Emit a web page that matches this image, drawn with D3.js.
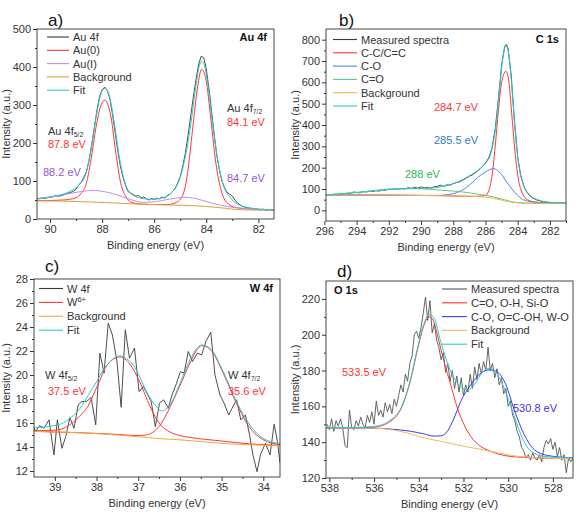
<!DOCTYPE html>
<html>
<head>
<meta charset="utf-8">
<script src="https://cdn.jsdelivr.net/npm/d3@7"></script>
<style>
  body { margin: 0; background: #fff; }
  svg { font-family: "Liberation Sans", Arial, sans-serif; }
  .tick text { font-size: 11px; fill: #333; }
  .tick line { stroke: #333; }
</style>
</head>
<body>
<svg id="fig" width="583" height="514"></svg>
<script>
// ---- a) Au 4f ----
const auMeasured = [[90.5,53],[90.4,54],[90.3,55],[90.2,54],[90.1,56],[90.0,57],[89.9,58],[89.8,62],[89.7,60],[89.6,61],[89.5,63],[89.4,65],[89.3,68],[89.2,70],[89.1,73],[89.0,78],[88.9,90],[88.8,96],[88.7,110],[88.6,125],[88.5,155],[88.4,195],[88.3,240],[88.2,285],[88.1,322],[88.0,340],[87.9,347],[87.8,338],[87.7,315],[87.6,275],[87.5,228],[87.4,180],[87.3,140],[87.2,110],[87.1,88],[87.0,72],[86.9,68],[86.8,64],[86.7,60],[86.6,62],[86.5,56],[86.4,58],[86.3,53],[86.2,50],[86.1,54],[86.0,51],[85.9,55],[85.8,53],[85.7,58],[85.6,55],[85.5,62],[85.4,65],[85.3,72],[85.2,80],[85.1,95],[85.0,112],[84.9,140],[84.8,175],[84.7,220],[84.6,270],[84.5,320],[84.4,365],[84.3,405],[84.2,428],[84.1,425],[84.0,395],[83.9,345],[83.8,285],[83.7,225],[83.6,170],[83.5,130],[83.4,100],[83.3,82],[83.2,70],[83.1,65],[83.0,60],[82.9,50],[82.8,42],[82.7,37],[82.6,33],[82.5,31],[82.4,29],[82.3,28],[82.2,27],[82.1,26],[82.0,25],[81.9,24],[81.8,26],[81.7,22],[81.6,25],[81.5,23],[81.4,24]];
const auZero = [[90.5,48],[89.5,50],[89.0,56],[88.8,68],[88.6,95],[88.43,155],[88.23,243],[88.04,300],[87.89,313],[87.75,295],[87.66,269],[87.47,172],[87.28,93],[87.08,58],[86.83,43],[86.45,39],[86.0,38],[85.5,38],[85.2,42],[84.92,60],[84.72,120],[84.53,234],[84.33,348],[84.18,394],[84.01,366],[83.82,260],[83.63,146],[83.43,76],[83.24,45],[82.86,30],[82.2,26],[81.4,24]];
const auOne = [[90.5,52],[90.0,58],[89.5,64],[89.0,70],[88.6,74],[88.3,75],[88.0,73],[87.6,67],[87.2,58],[86.8,49],[86.4,44],[86.0,45],[85.6,50],[85.2,55],[84.8,57],[84.5,55],[84.1,48],[83.7,40],[83.3,34],[82.9,30],[82.4,27],[81.9,25],[81.4,24]];
const auBackground = [[90.5,48],[89.5,47],[88.5,45],[87.5,42],[86.5,39],[85.5,37],[84.5,35],[84.0,33],[83.5,30],[83.0,26],[82.5,24],[81.4,23]];
const auFit = [[90.5,54],[89.9,59],[89.26,72],[88.88,90],[88.62,120],[88.43,181],[88.23,269],[88.04,330],[87.89,344],[87.73,326],[87.53,252],[87.34,163],[87.15,102],[86.9,67],[86.45,54],[86.07,52],[85.56,58],[85.3,72],[85.04,102],[84.78,172],[84.59,252],[84.4,349],[84.27,402],[84.18,415],[84.08,406],[83.95,358],[83.76,252],[83.56,155],[83.37,94],[83.11,59],[82.73,37],[82.2,28],[81.4,24]];

// ---- b) C 1s ----
const cMeasured = [[296.0,70],[295.8,74],[295.6,72],[295.4,76],[295.2,74],[295.0,78],[294.8,76],[294.6,80],[294.4,78],[294.2,86],[294.0,84],[293.8,82],[293.6,88],[293.4,86],[293.2,90],[293.0,88],[292.8,92],[292.6,90],[292.4,96],[292.2,94],[292.0,100],[291.8,97],[291.6,101],[291.4,99],[291.2,103],[291.0,100],[290.8,106],[290.6,103],[290.4,108],[290.2,104],[290.0,110],[289.8,105],[289.6,108],[289.4,104],[289.2,110],[289.0,112],[288.8,118],[288.6,112],[288.4,120],[288.2,118],[288.0,125],[287.8,130],[287.6,134],[287.4,142],[287.2,150],[287.0,160],[286.8,166],[286.6,178],[286.4,190],[286.2,205],[286.0,222],[285.8,245],[285.6,290],[285.4,380],[285.2,520],[285.0,680],[284.8,770],[284.7,778],[284.6,760],[284.4,630],[284.2,420],[284.0,250],[283.8,160],[283.6,110],[283.4,82],[283.2,65],[283.0,55],[282.8,48],[282.6,44],[282.4,40],[282.2,38],[282.0,37],[281.8,36],[281.6,35],[281.4,34],[281.2,34],[281.0,33]];
const cCC = [[295.9,72],[292,71],[289,69],[288,67],[287,66],[286.5,66],[286.0,70],[285.8,90],[285.6,160],[285.4,295],[285.2,465],[285.0,598],[284.73,652],[284.55,605],[284.35,435],[284.15,262],[283.95,142],[283.75,86],[283.5,56],[283.0,40],[282.0,34],[281.0,33]];
const cCO = [[295.9,72],[292,71],[290,70],[289,70],[288.5,72],[288,78],[287.5,92],[287,118],[286.5,153],[286,180],[285.7,192],[285.45,195],[285.2,184],[285,168],[284.7,134],[284.3,95],[284,70],[283.7,52],[283.3,42],[282.5,35],[281,33]];
const cCeqO = [[295.9,72],[294,84],[292,98],[290.5,102],[289.5,99],[288.7,94],[288,90],[287.5,87],[287,82],[286.5,76],[286,70],[285.5,63],[285,53],[284.5,43],[284,36],[283,33],[281,33]];
const cBackground = [[295.9,72],[292,71],[289,69],[287,66],[286,62],[285.5,56],[285,48],[284.5,40],[284,35],[283.5,33],[281,33]];
const cFit = [[295.9,72],[293.9,84],[291.8,100],[289.75,103],[288.7,111],[287.7,134],[287.1,158],[286.45,189],[286.0,220],[285.7,259],[285.5,322],[285.3,431],[285.1,587],[284.9,728],[284.73,772],[284.58,744],[284.37,587],[284.17,384],[283.96,228],[283.65,119],[283.24,72],[282.7,48],[281.9,37],[281.0,33]];

// ---- c) W 4f ----
const wMeasured = [[39.52,15.78],[39.46,15.28],[39.37,15.78],[39.26,15.56],[39.14,16.26],[39.02,13.34],[38.94,16.26],[38.83,13.89],[38.74,14.86],[38.64,16.45],[38.54,15.56],[38.44,17.51],[38.35,17.79],[38.24,17.79],[38.13,18.12],[38.02,15.84],[37.92,21.82],[37.82,20.15],[37.72,24.32],[37.62,23.35],[37.51,21.12],[37.41,17.31],[37.31,23.77],[37.21,21.4],[37.09,22.24],[36.98,18.62],[36.88,19.04],[36.81,18.62],[36.69,17.79],[36.59,15.7],[36.49,17.65],[36.39,17.93],[36.28,17.23],[36.19,18.34],[36.08,19.32],[35.99,20.29],[35.9,20.15],[35.8,21.96],[35.7,21.12],[35.58,21.82],[35.48,21.68],[35.37,22.85],[35.26,23.57],[35.16,20.01],[35.04,18.34],[34.94,17.65],[34.83,16.67],[34.75,17.23],[34.64,17.93],[34.54,16.26],[34.43,16.67],[34.33,15.0],[34.25,13.34],[34.15,11.94],[34.07,13.34],[33.95,14.31],[33.84,13.34],[33.74,15.9],[33.66,14.45],[33.6,12.64]];
const wFiveHalf = [[39.5,15.35],[39.0,15.4],[38.8,15.55],[38.6,15.95],[38.4,16.6],[38.24,17.2],[37.98,19.1],[37.74,20.85],[37.44,21.5],[37.2,20.9],[36.96,19.4],[36.72,17.4],[36.48,15.9],[36.24,15.25],[36.0,14.95],[35.76,14.8],[35.0,14.5],[34.3,14.25],[33.6,14.15]];
const wSevenHalf = [[39.5,15.3],[38.5,15.2],[37.5,15.05],[37.0,14.95],[36.8,15.0],[36.6,15.35],[36.44,16.0],[36.24,17.3],[36.0,19.1],[35.76,21.0],[35.6,22.05],[35.48,22.45],[35.36,22.35],[35.24,22.0],[34.96,20.15],[34.64,17.6],[34.32,15.6],[34.0,14.6],[33.6,14.2]];
const wBackground = [[39.5,15.3],[38.5,15.2],[37.5,15.0],[37.0,14.85],[36.5,14.7],[36.0,14.6],[35.5,14.45],[35.0,14.3],[34.5,14.2],[34.0,14.15],[33.6,14.1]];
const wFit = [[39.5,15.6],[39.0,15.8],[38.8,16.0],[38.6,16.5],[38.4,17.2],[38.2,18.3],[38.0,19.44],[37.84,20.4],[37.68,21.1],[37.44,21.6],[37.28,21.35],[37.12,20.83],[36.96,19.8],[36.8,18.6],[36.56,17.35],[36.44,17.0],[36.34,17.15],[36.24,17.49],[36.0,19.3],[35.76,21.25],[35.6,22.2],[35.48,22.5],[35.36,22.4],[35.24,22.09],[34.96,20.27],[34.64,17.77],[34.32,15.82],[34.0,14.71],[33.6,14.29]];

// ---- d) O 1s ----
const oMeasured = [[538.1,150],[538.0,147],[537.9,153],[537.8,146],[537.7,152],[537.6,149],[537.5,153],[537.4,148],[537.3,138],[537.2,137],[537.1,158],[537.0,148],[536.9,147],[536.8,152],[536.7,149],[536.6,154],[536.5,150],[536.4,148],[536.3,155],[536.2,151],[536.1,157],[536.0,150],[535.9,163],[535.8,155],[535.7,158],[535.6,154],[535.5,162],[535.4,157],[535.3,161],[535.2,156],[535.1,164],[535.0,160],[534.9,166],[534.8,172],[534.7,168],[534.6,178],[534.5,174],[534.4,184],[534.3,188],[534.2,200],[534.1,202],[534.0,198],[533.9,204],[533.8,212],[533.7,221],[533.6,208],[533.5,219],[533.4,201],[533.3,206],[533.2,197],[533.1,193],[533.0,186],[532.9,190],[532.8,179],[532.7,184],[532.6,174],[532.5,180],[532.4,170],[532.3,177],[532.2,168],[532.1,176],[532.0,166],[531.9,172],[531.8,168],[531.7,178],[531.6,170],[531.5,182],[531.4,175],[531.3,184],[531.2,178],[531.1,185],[531.0,180],[530.9,193],[530.8,180],[530.7,184],[530.6,176],[530.5,181],[530.4,172],[530.3,176],[530.2,167],[530.1,170],[530.0,160],[529.9,163],[529.8,155],[529.7,152],[529.6,146],[529.5,143],[529.4,137],[529.3,135],[529.2,131],[529.1,133],[529.0,130],[528.9,134],[528.8,131],[528.7,130],[528.6,133],[528.5,129],[528.4,137],[528.3,141],[528.2,139],[528.1,142],[528.0,136],[527.9,140],[527.8,132],[527.7,137],[527.6,130],[527.5,133],[527.4,123],[527.3,131],[527.2,129],[527.1,131]];
const oCeqO = [[538.15,148],[537,148],[536,148.4],[535.25,151.8],[534.8,158.5],[534.36,175],[534.06,191.5],[533.76,205.5],[533.54,210.1],[533.35,208],[533.17,200],[532.87,185],[532.57,172],[532.27,159],[531.97,149.7],[531.67,143.2],[531.22,137.6],[530.78,134.9],[530.18,132.6],[529.28,131.5],[527.1,130.8]];
const oCO = [[538.15,148],[536,147.8],[535.25,147.3],[534.36,146.1],[533.76,144.6],[533.31,143.4],[533.02,143.5],[532.72,146.1],[532.42,153.5],[532.12,162.8],[531.67,172],[531.22,178.5],[530.85,180.4],[530.48,179.1],[530.1,172],[529.73,158.1],[529.28,144.2],[528.83,135.8],[528.24,132.6],[527.1,131.2]];
const oBackground = [[538.15,148],[536,147.8],[534.8,146],[533.76,142.4],[533.02,140.5],[531.97,137.7],[530.78,134.9],[529.58,132.1],[528.53,131.2],[527.1,130.8]];
const oFit = [[538.15,148],[537,148.2],[536,148.8],[535.25,152.5],[534.8,159],[534.36,175.7],[534.06,192.4],[533.76,206.4],[533.54,211.4],[533.31,209.2],[533.02,196.2],[532.57,179.5],[532.12,171.1],[531.82,169.2],[531.52,172],[531.15,179.1],[530.85,181.3],[530.55,179.1],[530.18,170.2],[529.8,157.2],[529.43,144.2],[528.98,134.9],[528.39,132.1],[527.79,131.5],[527.1,131.2]];

// tick values
const auXTicks = [90, 88, 86, 84, 82], auXMinor = [89, 87, 85, 83];
const auYTicks = [0, 100, 200, 300, 400, 500], auYMinor = [50, 150, 250, 350, 450];
const cXTicks = [296, 294, 292, 290, 288, 286, 284, 282], cXMinor = [295, 293, 291, 289, 287, 285, 283, 281];
const cYTicks = [0, 100, 200, 300, 400, 500, 600, 700, 800], cYMinor = [50, 150, 250, 350, 450, 550, 650, 750];
const wXTicks = [39, 38, 37, 36, 35, 34], wXMinor = [38.5, 37.5, 36.5, 35.5, 34.5];
const wYTicks = [12, 14, 16, 18, 20, 22, 24, 26, 28], wYMinor = [13, 15, 17, 19, 21, 23, 25, 27];
const oXTicks = [538, 536, 534, 532, 530, 528], oXMinor = [537, 535, 533, 531, 529];
const oYTicks = [120, 140, 160, 180, 200, 220], oYMinor = [130, 150, 170, 190, 210];

const RED = '#ff3535', FIT = '#2ccaca', DARK = '#3a3a3a';

const svg = d3.select('#fig');
let clipCount = 0;

function panel(p) {
  const x = d3.scaleLinear().domain(p.xDomain).range([p.left, p.right]);
  const y = d3.scaleLinear().domain(p.yDomain).range([p.bottom, p.top]);
  const g = svg.append('g');
  const fmt = d => String(d);

  // minor then major ticks, outward
  g.append('g').attr('transform', `translate(0,${p.bottom})`)
      .call(d3.axisBottom(x).tickValues(p.xMinor).tickSize(2).tickFormat(''));
  g.append('g').attr('transform', `translate(0,${p.bottom})`)
      .call(d3.axisBottom(x).tickValues(p.xTicks).tickSize(4).tickPadding(2).tickFormat(fmt));
  g.append('g').attr('transform', `translate(${p.left},0)`)
      .call(d3.axisLeft(y).tickValues(p.yMinor).tickSize(2).tickFormat(''));
  g.append('g').attr('transform', `translate(${p.left},0)`)
      .call(d3.axisLeft(y).tickValues(p.yTicks).tickSize(4).tickPadding(2).tickFormat(fmt));
  g.selectAll('.domain').remove();

  const id = 'clip' + (++clipCount);
  g.append('clipPath').attr('id', id).append('rect')
      .attr('x', p.left).attr('y', p.top)
      .attr('width', p.right - p.left).attr('height', p.bottom - p.top);

  const line = d3.line().x(d => x(d[0])).y(d => y(d[1]));
  const plot = g.append('g').attr('clip-path', `url(#${id})`);
  p.series.forEach(s => {
    [s.data].concat(s.extra || []).forEach(arr => {
      plot.append('path')
          .datum(arr)
          .attr('fill', 'none')
          .attr('stroke', s.color)
          .attr('stroke-width', s.width || 1)
          .attr('d', line.curve(s.smooth ? d3.curveMonotoneX : d3.curveLinear));
    });
  });

  g.append('rect')
      .attr('x', p.left).attr('y', p.top)
      .attr('width', p.right - p.left).attr('height', p.bottom - p.top)
      .attr('fill', 'none').attr('stroke', '#333').attr('stroke-width', 0.9);

  // legend
  const lg = p.legend;
  p.series.forEach((s, i) => {
    const yy = lg.y + i * lg.dy;
    g.append('line').attr('x1', lg.x0).attr('x2', lg.x1)
        .attr('y1', yy).attr('y2', yy)
        .attr('stroke', s.color).attr('stroke-width', 1.1);
    const t = g.append('text').attr('x', lg.tx).attr('y', yy + 4)
        .attr('font-size', 11).attr('fill', '#333');
    s.label.forEach(part => {
      const ts = t.append('tspan').text(part[0]);
      if (part[1] === 'sup') ts.attr('font-size', 7.5).attr('dy', -4);
    });
  });

  // panel tag (bold), letter
  g.append('text').attr('x', p.tag.x).attr('y', p.tag.y)
      .attr('text-anchor', p.tag.anchor).attr('font-size', 11)
      .attr('font-weight', 'bold').attr('fill', '#111').text(p.tag.text);
  g.append('text').attr('x', p.letter.x).attr('y', p.letter.y)
      .attr('font-size', 17).attr('fill', '#111').text(p.letter.text);

  // annotations
  p.notes.forEach(n => {
    const t = g.append('text').attr('x', n.x).attr('y', n.y)
        .attr('font-size', 11).attr('fill', n.color);
    n.parts.forEach(part => {
      const ts = t.append('tspan').text(part[0]);
      if (part[1] === 'sub') ts.attr('font-size', 7).attr('dy', 2);
    });
  });

  // axis titles
  g.append('text')
      .attr('x', (p.left + p.right) / 2).attr('y', p.bottom + 30)
      .attr('text-anchor', 'middle').attr('font-size', 11).attr('fill', '#333')
      .text('Binding energy (eV)');
  g.append('text')
      .attr('transform', `translate(${p.ylabX},${(p.top + p.bottom) / 2}) rotate(-90)`)
      .attr('text-anchor', 'middle').attr('font-size', 11).attr('fill', '#333')
      .text('Intensity (a.u.)');
}

panel({
  left: 37, right: 274, top: 29, bottom: 219,
  xDomain: [90.5, 81.4], yDomain: [0, 500],
  xTicks: auXTicks, xMinor: auXMinor, yTicks: auYTicks, yMinor: auYMinor,
  ylabX: 10,
  series: [
    {data: auMeasured, color: DARK, width: 0.9, label: [['Au 4f']]},
    {data: auZero, color: RED, smooth: true, label: [['Au(0)']]},
    {data: auOne, color: '#c48af2', smooth: true, label: [['Au(I)']]},
    {data: auBackground, color: '#d6a23c', smooth: true, label: [['Background']]},
    {data: auFit, color: FIT, smooth: true, label: [['Fit']]}
  ],
  legend: {x0: 47, x1: 69, tx: 73, y: 37, dy: 13.3},
  tag: {text: 'Au 4f', x: 267, y: 41, anchor: 'end'},
  letter: {text: 'a)', x: 48, y: 26},
  notes: [
    {x: 48, y: 135, color: '#333', parts: [['Au 4f'], ['5/2', 'sub']]},
    {x: 48, y: 148, color: RED, parts: [['87.8 eV']]},
    {x: 43, y: 176, color: '#9655d2', parts: [['88.2 eV']]},
    {x: 227, y: 112, color: '#333', parts: [['Au 4f'], ['7/2', 'sub']]},
    {x: 227, y: 126, color: RED, parts: [['84.1 eV']]},
    {x: 227, y: 182, color: '#9655d2', parts: [['84.7 eV']]}
  ]
});

panel({
  left: 326, right: 566, top: 29, bottom: 221,
  xDomain: [295.9, 281.0], yDomain: [-50, 850],
  xTicks: cXTicks, xMinor: cXMinor, yTicks: cYTicks, yMinor: cYMinor,
  ylabX: 299,
  series: [
    {data: cMeasured, color: DARK, width: 0.9, label: [['Measured spectra']]},
    {data: cCC, color: RED, smooth: true, label: [['C-C/C=C']]},
    {data: cCO, color: '#4a86e0', smooth: true, label: [['C-O']]},
    {data: cCeqO, color: '#5cc98a', smooth: true, label: [['C=O']]},
    {data: cBackground, color: '#f2b441', smooth: true, label: [['Background']]},
    {data: cFit, color: FIT, smooth: true, label: [['Fit']]}
  ],
  legend: {x0: 333, x1: 357, tx: 361, y: 39.5, dy: 13.3},
  tag: {text: 'C 1s', x: 559, y: 43, anchor: 'end'},
  letter: {text: 'b)', x: 339, y: 26},
  notes: [
    {x: 434, y: 111, color: RED, parts: [['284.7 eV']]},
    {x: 434, y: 144, color: '#2f78d0', parts: [['285.5 eV']]},
    {x: 405, y: 178, color: '#2db84c', parts: [['288 eV']]}
  ]
});

panel({
  left: 34, right: 280, top: 279, bottom: 477,
  xDomain: [39.5, 33.6], yDomain: [11.5, 28],
  xTicks: wXTicks, xMinor: wXMinor, yTicks: wYTicks, yMinor: wYMinor,
  ylabX: 10,
  series: [
    {data: wMeasured, color: DARK, width: 0.9, label: [['W 4f']]},
    {data: wFiveHalf, extra: [wSevenHalf], color: RED, smooth: true, label: [['W'], ['6+', 'sup']]},
    {data: wBackground, color: '#f3a93c', smooth: true, label: [['Background']]},
    {data: wFit, color: FIT, smooth: true, label: [['Fit']]}
  ],
  legend: {x0: 39, x1: 63, tx: 67, y: 288.5, dy: 13.9},
  tag: {text: 'W 4f', x: 273, y: 292, anchor: 'end'},
  letter: {text: 'c)', x: 45, y: 272},
  notes: [
    {x: 45, y: 379, color: '#333', parts: [['W 4f'], ['5/2', 'sub']]},
    {x: 48, y: 395, color: RED, parts: [['37.5 eV']]},
    {x: 228, y: 379, color: '#333', parts: [['W 4f'], ['7/2', 'sub']]},
    {x: 228, y: 395, color: RED, parts: [['35.6 eV']]}
  ]
});

panel({
  left: 326, right: 573, top: 281, bottom: 478,
  xDomain: [538.15, 527.1], yDomain: [120, 230],
  xTicks: oXTicks, xMinor: oXMinor, yTicks: oYTicks, yMinor: oYMinor,
  ylabX: 299,
  series: [
    {data: oMeasured, color: '#555', width: 0.9, label: [['Measured spectra']]},
    {data: oCeqO, color: RED, smooth: true, label: [['C=O, O-H, Si-O']]},
    {data: oCO, color: '#3b3bf0', smooth: true, label: [['C-O, O=C-OH, W-O']]},
    {data: oBackground, color: '#f1b95a', smooth: true, label: [['Background']]},
    {data: oFit, color: FIT, smooth: true, label: [['Fit']]}
  ],
  legend: {x0: 442, x1: 467, tx: 471, y: 289, dy: 13.8},
  tag: {text: 'O 1s', x: 334, y: 294, anchor: 'start'},
  letter: {text: 'd)', x: 337, y: 277},
  notes: [
    {x: 342, y: 376, color: RED, parts: [['533.5 eV']]},
    {x: 513, y: 412, color: '#4a2fd6', parts: [['530.8 eV']]}
  ]
});
</script>
</body>
</html>
